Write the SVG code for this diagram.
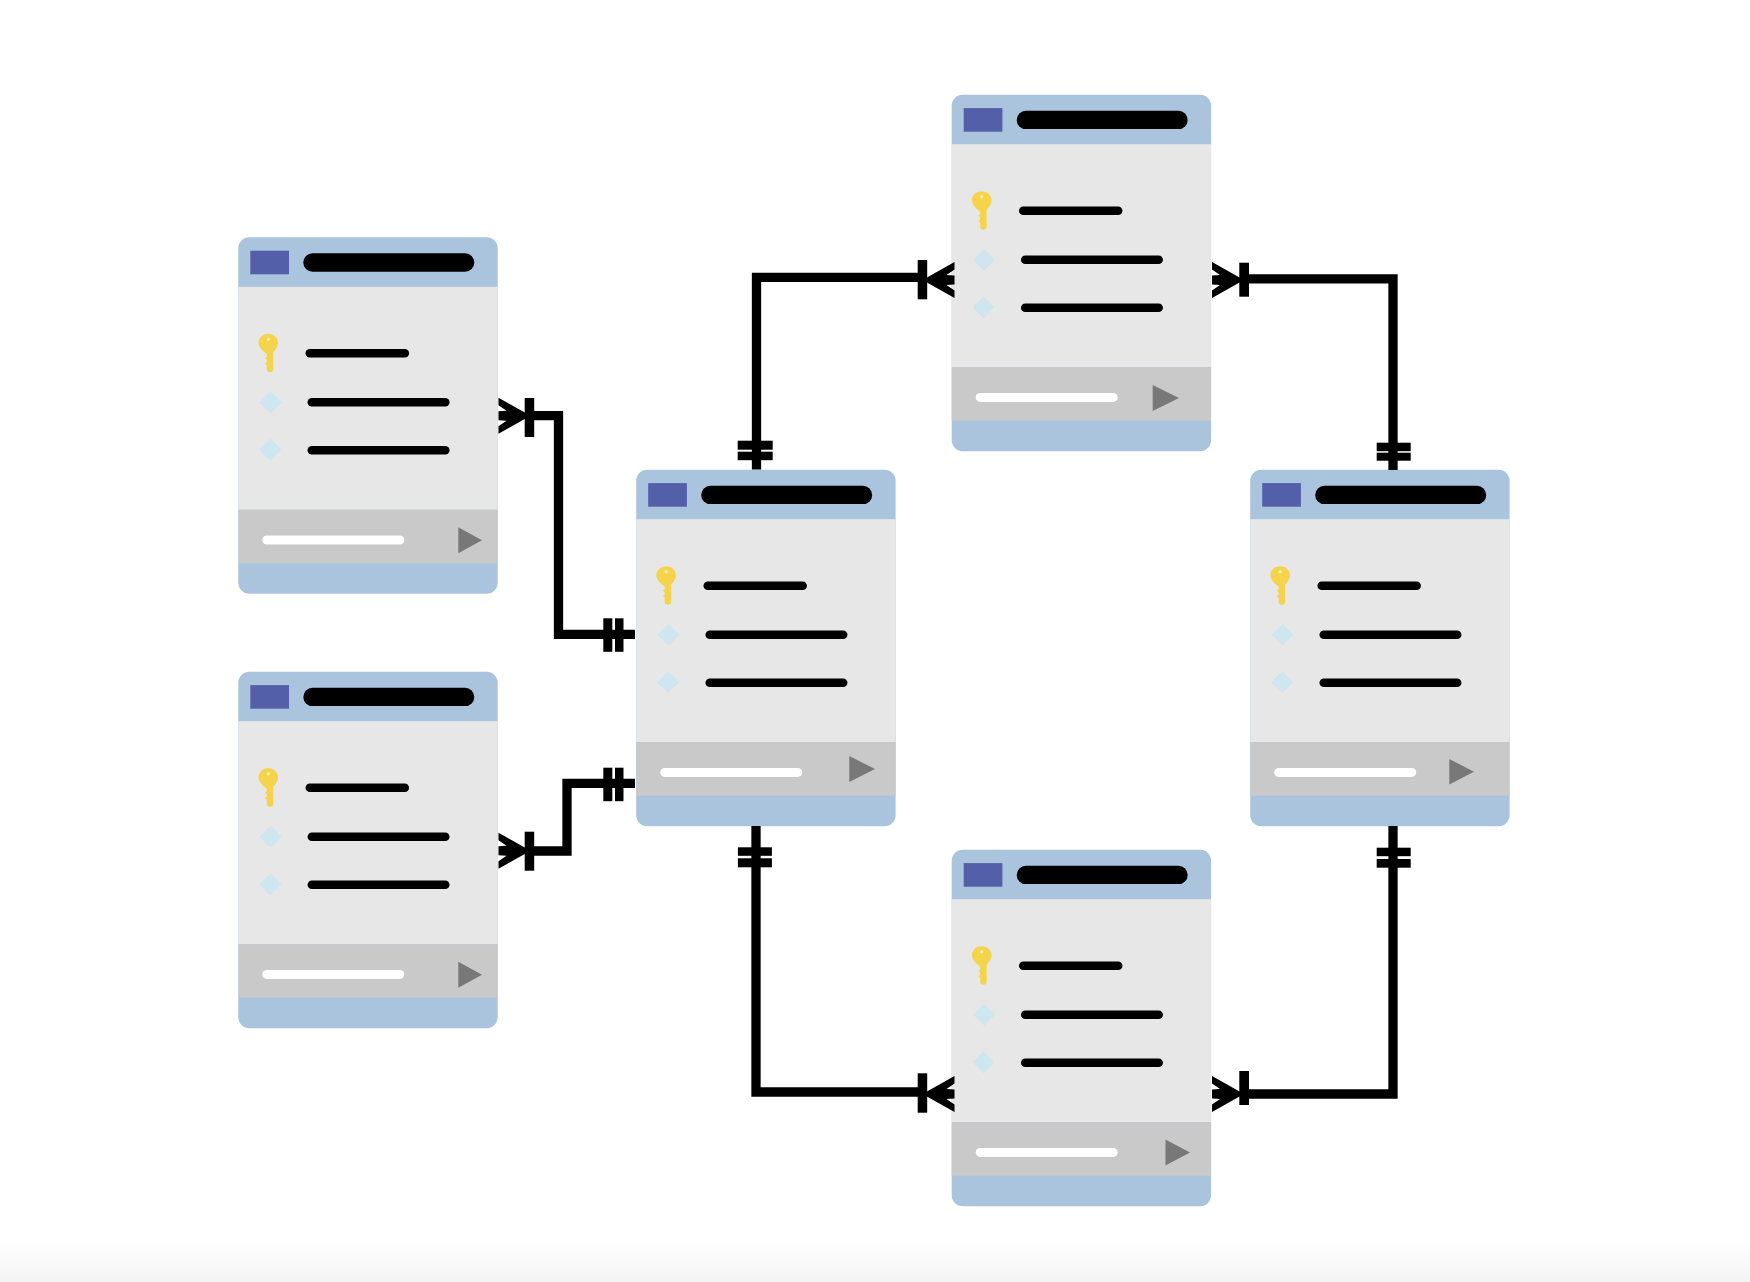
<svg xmlns="http://www.w3.org/2000/svg" xmlns:xlink="http://www.w3.org/1999/xlink" width="1750" height="1282" viewBox="0 0 1750 1282">
<style>
.hdr{fill:#a9c4dc}.body{fill:#e7e7e7}.foot{fill:#c9c9c9}.sq{fill:#535fa9}.ttl{fill:#000}.ln{stroke:#000;stroke-width:8.5;stroke-linecap:round;fill:none}.wb{stroke:#fff;stroke-width:9;stroke-linecap:round;fill:none}.dia{fill:#cde6ef}.key{fill:#f5d44c}.tri{fill:#787878}.conn{fill:none;stroke:#000;stroke-width:9.300;stroke-linejoin:miter}.blk{fill:#000}.soft{filter:url(#soft)}
</style>
<defs>
<filter id="soft" x="-5%" y="-5%" width="110%" height="110%"><feGaussianBlur stdDeviation="0.6"/></filter>
<linearGradient id="fade" x1="0" y1="0" x2="0" y2="1"><stop offset="0" stop-color="#fff"/><stop offset="1" stop-color="#f4f4f4"/></linearGradient>
<g id="card">
<rect class="hdr" width="259.4" height="356.500" rx="11"/>
<rect class="body" y="49.5" width="259.4" height="223"/>
<rect class="foot" y="272.5" width="259.4" height="53.5"/>
<rect class="sq" x="12" y="13.4" width="38.7" height="23.6"/>
<rect class="ttl" x="65" y="16" width="171" height="18.4" rx="9.2"/>
<path class="key" d="M30 96.500C35.500 96.500 39.800 100.500 39.800 105.500C39.800 109.500 37 112.500 35 115V132Q35 135 31.500 135Q28.500 135 28.500 132V128L26.500 126.500L28.500 125V122.500L26.500 121L28.500 119.500V117C25 114 20.200 110.500 20.200 105.500C20.200 100.500 24.500 96.500 30 96.500z"/>
<circle cx="30" cy="102" r="1.700" fill="#fbeeb0"/>
<path class="ln" d="M71.500 116H166.500"/>
<path class="ln" d="M73.500 165H207"/>
<path class="ln" d="M73.500 213H207"/>
<path class="dia" d="M32.400 154L43.400 165 32.400 176 21.400 165z"/>
<path class="dia" d="M32 201.500L43 212.500 32 223.500 21 212.500z"/>
<path class="wb" d="M28.500 302.700H161.500"/>
</g>
<path id="crow" class="blk" d="M6 0L-26 -18V-10.500L-18 -5L-26 -4.500V4.500L-18 5L-26 10.500V18z"/>
</defs>
<rect width="1750" height="1282" fill="#fff"/>
<rect y="1240" width="1750" height="42" fill="url(#fade)"/>
<g id="table-left-upper" class="soft"><use href="#card" xlink:href="#card" transform="translate(238.300 237.300)"/><path class="tri" d="M458.300 527.300L482 540.300 458.300 553.300z"/></g>
<g id="table-left-lower" class="soft"><use href="#card" xlink:href="#card" transform="translate(238.300 671.700)"/><path class="tri" d="M458.300 961.700L482 974.700 458.300 987.700z"/></g>
<g id="table-center" class="soft"><use href="#card" xlink:href="#card" transform="translate(636.200 469.700)"/><path class="tri" d="M849.300 756L875 769 849.300 782z"/></g>
<g id="table-top" class="soft"><use href="#card" xlink:href="#card" transform="translate(951.700 94.700)"/><path class="tri" d="M1152.700 385L1179 398 1152.700 411z"/></g>
<g id="table-right" class="soft"><use href="#card" xlink:href="#card" transform="translate(1250.200 469.700)"/><path class="tri" d="M1449.300 759L1474 771.700 1449.300 784.500z"/></g>
<g id="table-bottom" class="soft"><use href="#card" xlink:href="#card" transform="translate(951.700 849.700)"/><path class="tri" d="M1165.500 1139.500L1190 1152.500 1165.500 1165.500z"/></g>
<g id="connectors" class="soft">
<path class="conn" d="M528 415.700H558.500V634.300H635"/>
<rect class="blk" x="524.700" y="398" width="9.500" height="39"/>
<use href="#crow" xlink:href="#crow" transform="translate(524.500 415.700)"/>
<rect class="blk" x="603.300" y="618.300" width="9" height="33.500"/>
<rect class="blk" x="615" y="618.300" width="8.500" height="33.500"/>
<path class="conn" d="M528 851H567V783.300H635"/>
<rect class="blk" x="524.700" y="831.700" width="9.500" height="39"/>
<use href="#crow" xlink:href="#crow" transform="translate(524.500 850.700)"/>
<rect class="blk" x="603.300" y="767.700" width="9" height="33.500"/>
<rect class="blk" x="615" y="767.700" width="8.500" height="33.500"/>
<path class="conn" d="M756.500 469.500V277.300H925"/>
<rect class="blk" x="917.700" y="260" width="9.500" height="39.300"/>
<use href="#crow" xlink:href="#crow" transform="translate(928.500 280) scale(-1 1)"/>
<rect class="blk" x="737.700" y="440.700" width="35" height="9"/>
<rect class="blk" x="737.700" y="451.700" width="35" height="8.500"/>
<path class="conn" d="M1242 278.800H1393V470"/>
<rect class="blk" x="1239.300" y="262.700" width="9.700" height="34"/>
<use href="#crow" xlink:href="#crow" transform="translate(1238 280)"/>
<rect class="blk" x="1376.700" y="442.700" width="34" height="8.500"/>
<rect class="blk" x="1376.700" y="452.700" width="34" height="8"/>
<path class="conn" d="M756 826V1092H925"/>
<rect class="blk" x="917.700" y="1073.300" width="9.500" height="39.400"/>
<use href="#crow" xlink:href="#crow" transform="translate(928.500 1094) scale(-1 1)"/>
<rect class="blk" x="737.900" y="847.300" width="34" height="8.500"/>
<rect class="blk" x="737.900" y="858.300" width="34" height="9"/>
<path class="conn" d="M1393 826V1094H1242"/>
<rect class="blk" x="1239.300" y="1071" width="9.700" height="34"/>
<use href="#crow" xlink:href="#crow" transform="translate(1238 1094)"/>
<rect class="blk" x="1376.700" y="847.700" width="34" height="8.500"/>
<rect class="blk" x="1376.700" y="859" width="34" height="8.700"/>
</g>
</svg>
